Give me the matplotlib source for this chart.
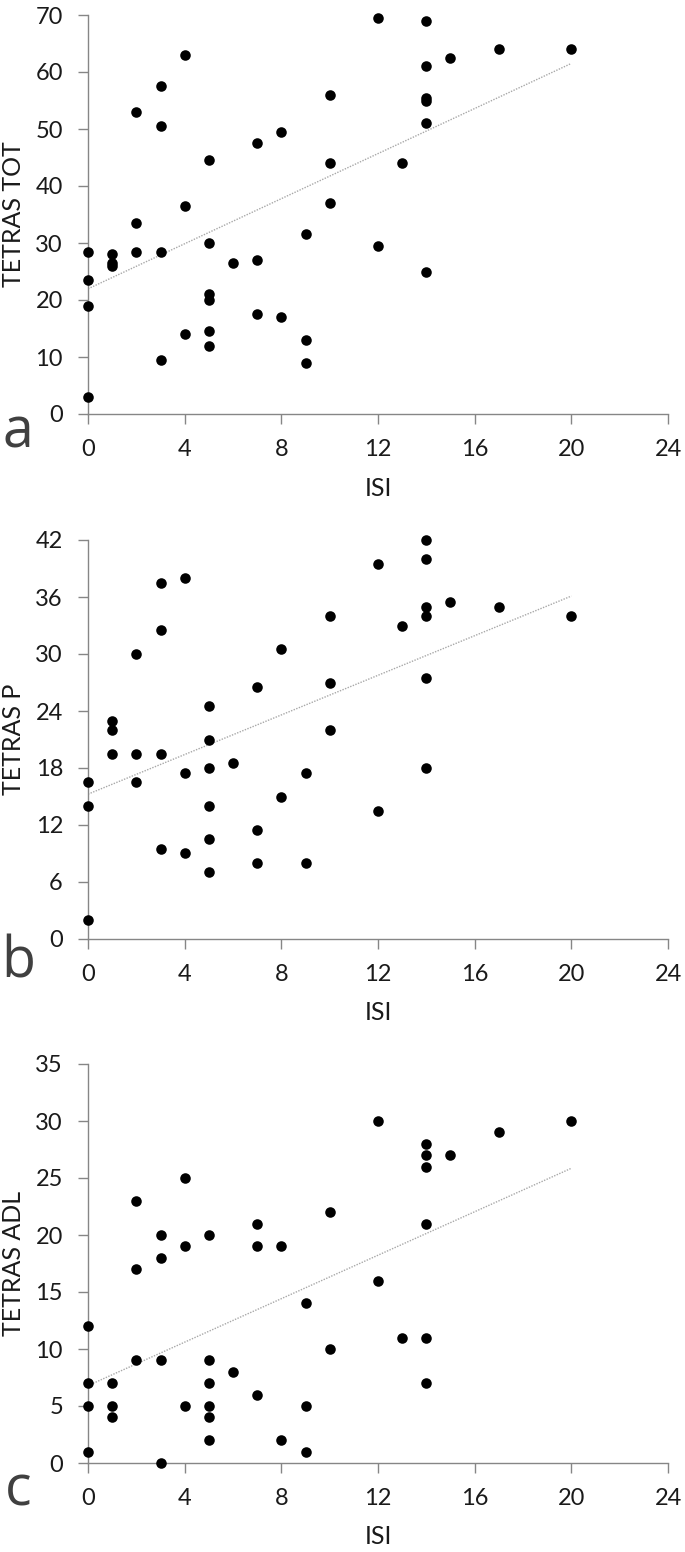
import numpy as np
import matplotlib
matplotlib.use("Agg")
import matplotlib.pyplot as plt

plt.rcParams['font.family'] = ['Lato', 'DejaVu Sans']

# ---- data ----
tot_x = [12, 14, 20, 17, 15, 14, 14, 14, 14, 4, 3, 2, 3, 8, 7, 5, 10, 10, 13, 10, 4, 2, 9, 5, 12,
         0, 1, 2, 3, 1, 1, 6, 7, 14, 0, 5, 5, 0, 7, 8, 9, 4, 5, 5, 3, 9, 0]
tot_y = [69.5, 69, 64, 64, 62.5, 61, 55.5, 55, 51, 63, 57.5, 53, 50.5, 49.5, 47.5, 44.5, 56, 44, 44, 37,
         36.5, 33.5, 31.5, 30, 29.5, 28.5, 28, 28.5, 28.5, 26.5, 26, 26.5, 27, 25, 23.5, 21, 20, 19,
         17.5, 17, 13, 14, 14.5, 12, 9.5, 9, 3]

p_x = [14, 14, 12, 4, 3, 15, 14, 17, 14, 20, 10, 13, 3, 2, 8, 14, 7, 10, 5, 1, 1, 10, 5, 1, 2, 3,
       0, 2, 0, 4, 5, 6, 9, 14, 8, 5, 12, 7, 5, 3, 4, 5, 7, 9, 0]
p_y = [42, 40, 39.5, 38, 37.5, 35.5, 35, 35, 34, 34, 34, 33, 32.5, 30, 30.5, 27.5, 26.5, 27, 24.5,
       23, 22, 22, 21, 19.5, 19.5, 19.5, 16.5, 16.5, 14, 17.5, 18, 18.5, 17.5, 18, 15, 14, 13.5,
       11.5, 10.5, 9.5, 9, 7, 8, 8, 2]

adl_x = [12, 20, 17, 14, 14, 15, 14, 4, 2, 10, 7, 14, 3, 5, 4, 7, 8, 3, 2, 12, 9,
         0, 13, 14, 10, 2, 3, 5, 6, 0, 1, 5, 14, 7, 0, 1, 4, 5, 9, 1, 5, 5, 8, 0, 9, 3]
adl_y = [30, 30, 29, 28, 27, 27, 26, 25, 23, 22, 21, 21, 20, 20, 19, 19, 19, 18, 17, 16, 14,
         12, 11, 11, 10, 9, 9, 9, 8, 7, 7, 7, 7, 6, 5, 5, 5, 5, 5, 4, 4, 2, 2, 1, 1, 0]

x_ticks = [0, 4, 8, 12, 16, 20, 24]
panels = [
    dict(x=tot_x, y=tot_y, ylabel="TETRAS TOT", yticks=[0, 10, 20, 30, 40, 50, 60, 70], letter="a"),
    dict(x=p_x, y=p_y, ylabel="TETRAS P", yticks=[0, 6, 12, 18, 24, 30, 36, 42], letter="b"),
    dict(x=adl_x, y=adl_y, ylabel="TETRAS ADL", yticks=[0, 5, 10, 15, 20, 25, 30, 35], letter="c"),
]

W, H = 685, 1552
fig = plt.figure(figsize=(W / 100, H / 100), dpi=100)

ax_left, ax_right = 88, 668
ax_tops = [15, 540, 1064]
ax_bots = [414, 939, 1463]
letter_base = [447, 978, 1505]

spine_col = "#868686"
for i, p in enumerate(panels):
    ax = fig.add_axes([ax_left / W, 1 - ax_bots[i] / H, (ax_right - ax_left) / W,
                       (ax_bots[i] - ax_tops[i]) / H])
    xs = np.array(p["x"], float)
    ys = np.array(p["y"], float)
    ax.plot(xs, ys, 'o', color='black', markersize=7.6, markeredgewidth=0, zorder=3, clip_on=False)
    k, b = np.polyfit(xs, ys, 1)
    xl = np.array([0, 20])
    ax.plot(xl, k * xl + b, linestyle=(0, (1, 1)), color="#a8a8a8", linewidth=1.0, zorder=2)
    ax.set_xlim(0, 24)
    ax.set_ylim(p["yticks"][0], p["yticks"][-1])
    ax.set_xticks(x_ticks)
    ax.set_yticks(p["yticks"])
    for s in ["top", "right"]:
        ax.spines[s].set_visible(False)
    for s in ["left", "bottom"]:
        ax.spines[s].set_color(spine_col)
        ax.spines[s].set_linewidth(1.0)
    ax.tick_params(axis='both', direction='out', length=7, width=1.0, color=spine_col,
                   labelsize=17, labelcolor="#1a1a1a")
    ax.tick_params(axis='x', pad=11)
    ax.tick_params(axis='y', pad=11)
    ax.set_xlabel("ISI", fontsize=18, color="#1a1a1a")
    ax.xaxis.set_label_coords(0.5, -74 / 399)
    ax.xaxis.label.set_va("center")
    ax.set_ylabel(p["ylabel"], fontsize=18, color="#1a1a1a")
    ax.yaxis.set_label_coords((14 - 88) / 580, 0.5)
    ax.yaxis.label.set_va("center")
    fig.text(18 / W, 1 - letter_base[i] / H, p["letter"], fontsize=40, color="#404040",
             ha="center", va="baseline", family=['Open Sans', 'DejaVu Sans'])

fig.savefig("out.png", dpi=100)
